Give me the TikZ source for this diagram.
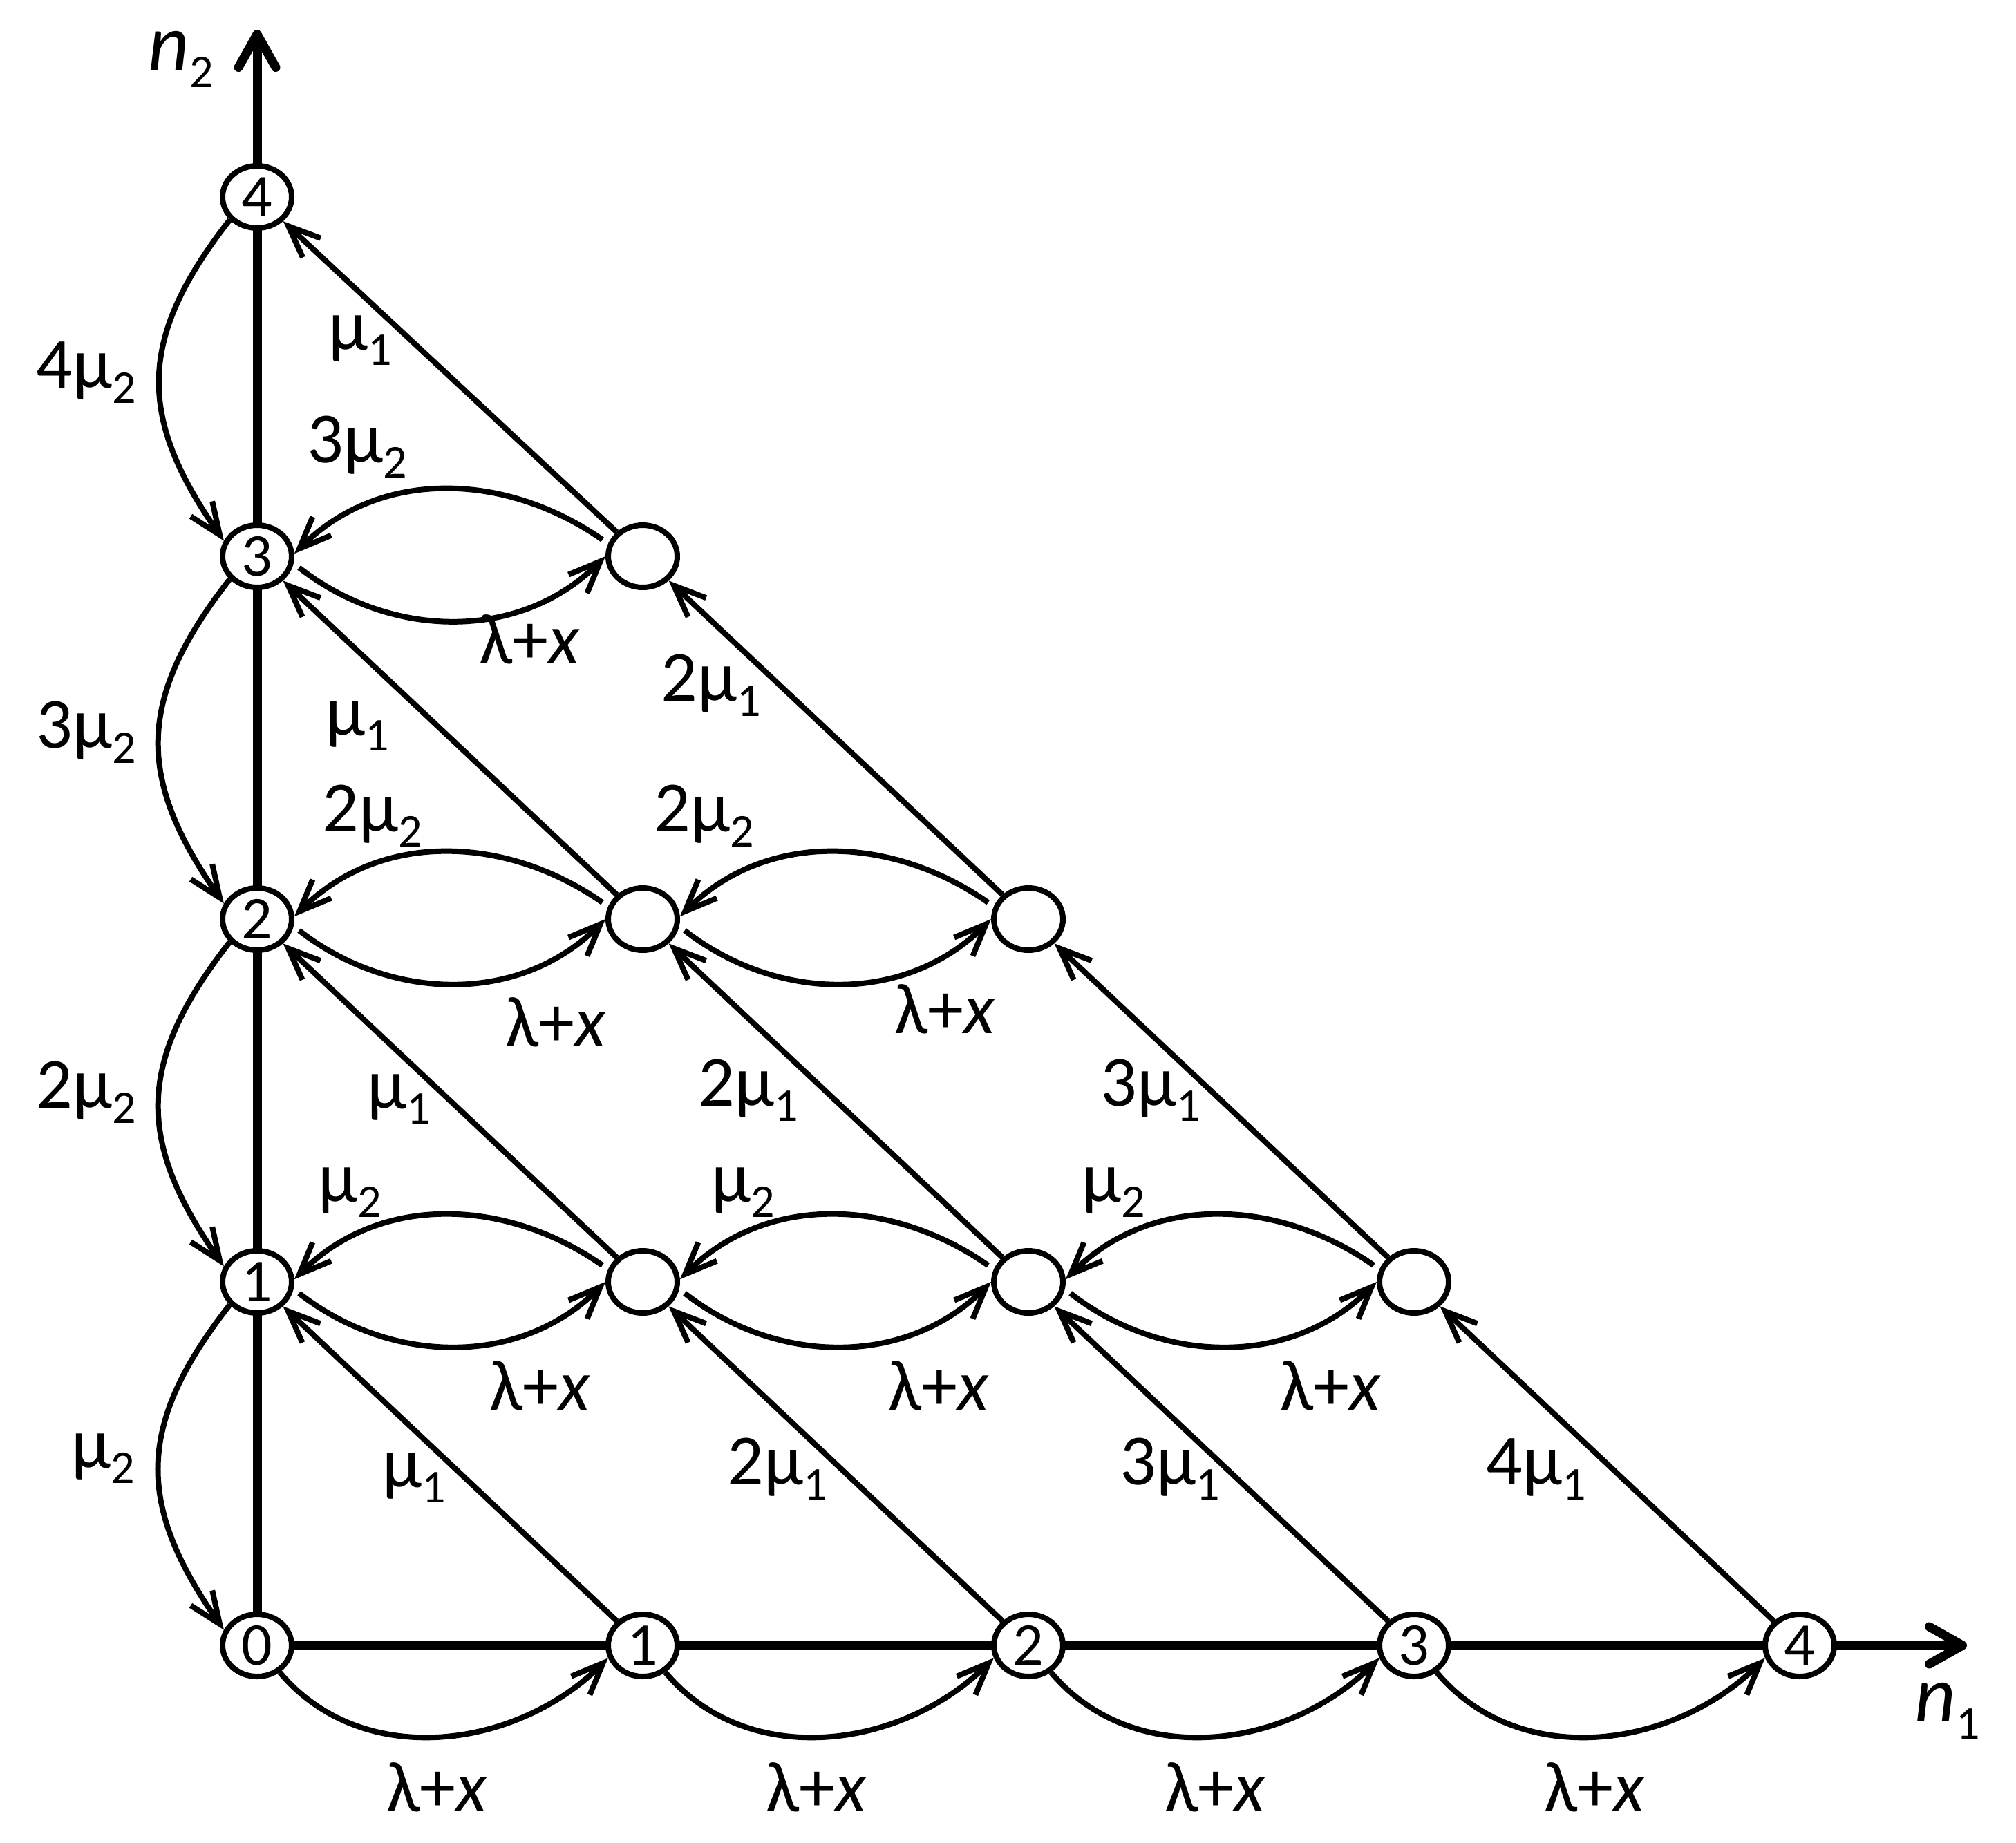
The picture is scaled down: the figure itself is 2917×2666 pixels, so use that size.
\documentclass[tikz,border=0pt]{standalone}
\usepackage{fontspec}
\setmainfont{Carlito}
\usetikzlibrary{shapes.geometric,arrows.meta,backgrounds}
\newcommand\sbx[1]{\raisebox{-0.21em}{\fontsize{34}{34}\selectfont #1}}
\newcommand\lx{λ+\textit{x}}
\begin{document}
\begin{tikzpicture}[x=0.5pt,y=0.5pt,
  st/.style={ellipse,draw,line width=4pt,fill=white,minimum width=50pt,minimum height=45pt,inner sep=0pt,font=\fontsize{44}{44}\selectfont},
  conn/.style={line width=4pt,-{Straight Barb[length=23pt,width=19pt]}},
  axisline/.style={line width=6.5pt,-{Straight Barb[length=24pt,width=27pt,round]}},
  lab/.style={font=\fontsize{52}{52}\selectfont,inner sep=0pt},
  axlab/.style={font=\fontsize{58}{58}\selectfont,inner sep=0pt}]
\useasboundingbox (0,0) rectangle (2917,-2666);
% states
\node[st] (n00) at (372,-2381) {0};
\node[st] (n10) at (930,-2381) {1};
\node[st] (n20) at (1488,-2381) {2};
\node[st] (n30) at (2046,-2381) {3};
\node[st] (n40) at (2604,-2381) {4};
\node[st] (n01) at (372,-1855) {1};
\node[st] (n11) at (930,-1855) {};
\node[st] (n21) at (1488,-1855) {};
\node[st] (n31) at (2046,-1855) {};
\node[st] (n02) at (372,-1330) {2};
\node[st] (n12) at (930,-1330) {};
\node[st] (n22) at (1488,-1330) {};
\node[st] (n03) at (372,-805) {3};
\node[st] (n13) at (930,-805) {};
\node[st] (n04) at (372,-285) {4};
\coordinate (ytip) at (372,-43);
\coordinate (xtip) at (2846,-2381);
% axes
\begin{pgfonlayer}{background}
\draw[axisline] (n00.center) -- (ytip);
\draw[axisline] (n00.center) -- (xtip);
\end{pgfonlayer}
\node[axlab] (ax2) at (262,-86) {\textit{n}\sbx{2}};
\node[axlab] (ax1) at (2818,-2476) {\textit{n}\sbx{1}};
% bottom row arcs
\foreach \a/\b in {n00/n10,n10/n20,n20/n30,n30/n40}
  \draw[conn] (\a.-50) to[out=-50,in=-135] (\b.200);
% row arcs
\foreach \l/\r in {n01/n11,n11/n21,n21/n31,n02/n12,n12/n22,n03/n13}{
  \draw[conn,shorten <=5pt] (\r.160) to[out=145,in=45] (\l.4);
  \draw[conn,shorten <=5pt] (\l.-11) to[out=-38,in=-135] (\r.180);
}
% left vertical arcs
\foreach \u/\d in {n04/n03,n03/n02,n02/n01,n01/n00}
  \draw[conn] (\u.-140) to[out=-128,in=125,looseness=1.2] (\d.155);
% diagonals
\foreach \s/\t in {n10/n01,n20/n11,n30/n21,n40/n31,n11/n02,n21/n12,n31/n22,n12/n03,n22/n13,n13/n04}
  \draw[conn] (\s) -- (\t);
% labels bottom row
\node[lab] (lb1) at (632,-2586) {\lx};
\node[lab] (lb2) at (1181,-2586) {\lx};
\node[lab] (lb3) at (1758,-2586) {\lx};
\node[lab] (lb4) at (2307,-2586) {\lx};
% row 1
\node[lab] (la11) at (781,-2005) {\lx};
\node[lab] (la12) at (1358,-2005) {\lx};
\node[lab] (la13) at (1925,-2005) {\lx};
\node[lab] (lm11) at (506,-1726) {μ\sbx{2}};
\node[lab] (lm12) at (1075,-1726) {μ\sbx{2}};
\node[lab] (lm13) at (1611,-1726) {μ\sbx{2}};
% row 2
\node[lab] (la21) at (804,-1479) {\lx};
\node[lab] (la22) at (1367,-1460) {\lx};
\node[lab] (lm21) at (539,-1181) {2μ\sbx{2}};
\node[lab] (lm22) at (1019,-1181) {2μ\sbx{2}};
% row 3
\node[lab] (la31) at (766,-925) {\lx};
\node[lab] (lm31) at (517,-647) {3μ\sbx{2}};
% diagonal labels
\node[lab] (ld01) at (599,-2139) {μ\sbx{1}};
\node[lab] (ld02) at (1125,-2126) {2μ\sbx{1}};
\node[lab] (ld03) at (1693,-2126) {3μ\sbx{1}};
\node[lab] (ld04) at (2223,-2126) {4μ\sbx{1}};
\node[lab] (ld11) at (577,-1591) {μ\sbx{1}};
\node[lab] (ld12) at (1083,-1578) {2μ\sbx{1}};
\node[lab] (ld13) at (1665,-1578) {3μ\sbx{1}};
\node[lab] (ld21) at (517,-1051) {μ\sbx{1}};
\node[lab] (ld22) at (1029,-992) {2μ\sbx{1}};
\node[lab] (ld31) at (521,-493) {μ\sbx{1}};
% left labels
\node[lab] (lv4) at (125,-539) {4μ\sbx{2}};
\node[lab] (lv3) at (125,-1060) {3μ\sbx{2}};
\node[lab] (lv2) at (125,-1581) {2μ\sbx{2}};
\node[lab] (lv1) at (149,-2111) {μ\sbx{2}};
\end{tikzpicture}
\end{document}
